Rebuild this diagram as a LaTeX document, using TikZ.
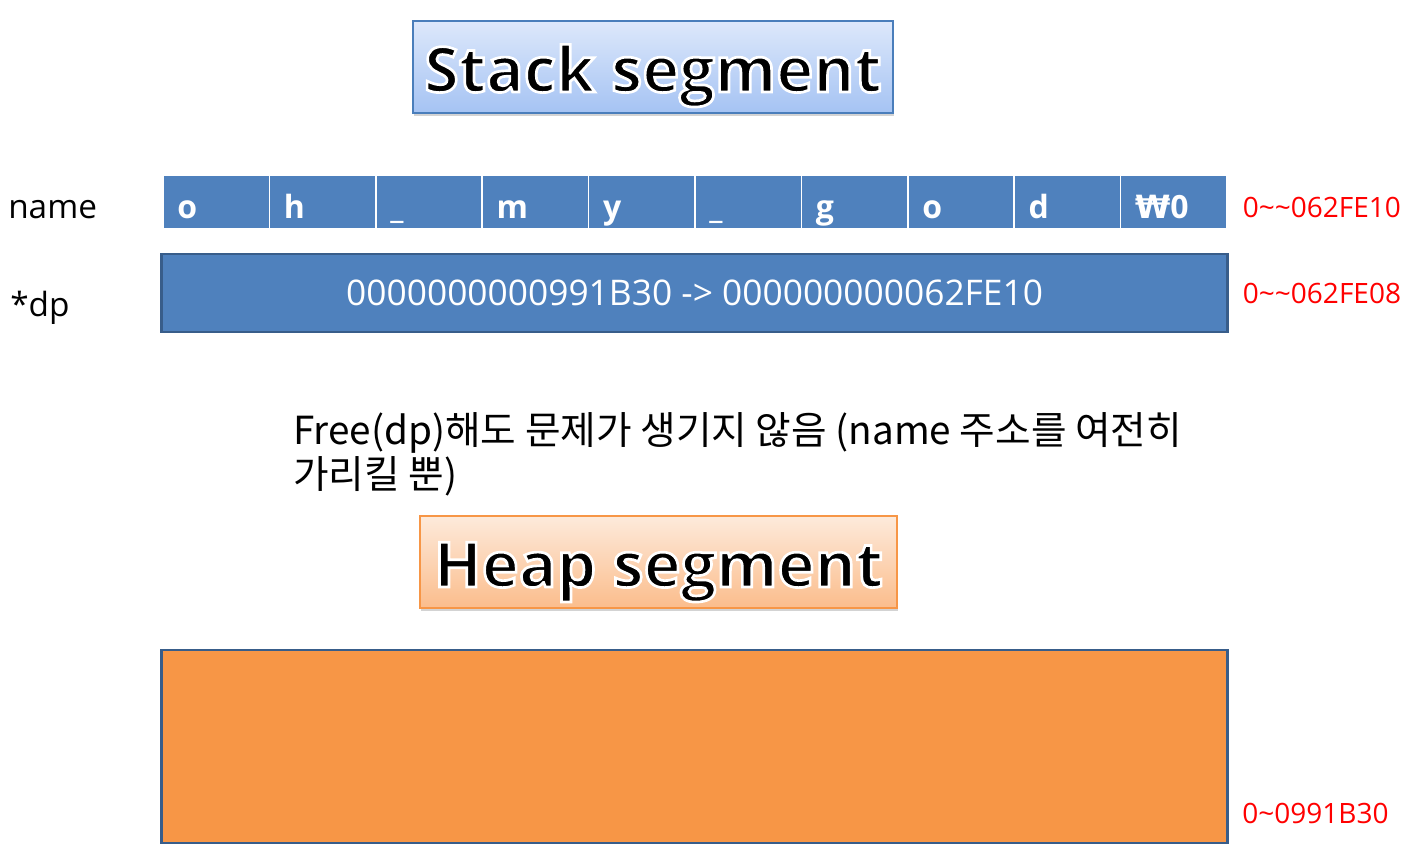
\documentclass[tikz,border=0pt]{standalone}
\usepackage{fontspec}
\setmainfont{Open Sans}
\newfontfamily\krfont{Noto Sans CJK KR}
\newfontfamily\wonfont{DejaVu Sans}
\usetikzlibrary{positioning,shadows}

\definecolor{cellblue}{HTML}{4F81BD}
\definecolor{edgeblue}{HTML}{385D8A}
\definecolor{heaporange}{HTML}{F79646}
\definecolor{stacktop}{HTML}{DDE8FB}
\definecolor{stackbot}{HTML}{A5C3F3}
\definecolor{stackedge}{HTML}{4A7EBB}
\definecolor{heaptop}{HTML}{FDEADB}
\definecolor{heapbot}{HTML}{FBBD8C}
\definecolor{addrred}{HTML}{FF0000}

% black letters with a white rim
\newcommand{\rimtext}[1]{\special{pdf:code 2 Tr 2 w 1 1 1 RG}#1\special{pdf:code 0 Tr}}

\begin{document}
\begin{tikzpicture}[x=0.75pt,y=-0.75pt,
    title/.style={rectangle,line width=1.1pt,minimum height=69pt,inner sep=0pt,
                  text height=40pt,text depth=2.5pt,
                  font=\fontsize{47}{54}\selectfont\bfseries,
                  drop shadow={opacity=0.35,shadow xshift=0.6pt,shadow yshift=-2pt}},
    cell/.style={rectangle,draw=white,line width=1.2pt,fill=cellblue,
                 minimum width=79.8pt,minimum height=40.5pt,inner sep=0pt},
    celltext/.style={anchor=base west,inner sep=0pt,text=white,
                     font=\fontsize{24}{28}\selectfont\bfseries},
    mem box/.style={rectangle,draw=edgeblue,line width=2.2pt,minimum width=800pt,inner sep=0pt},
    lbl/.style={anchor=base west,inner sep=0pt,font=\fontsize{25}{29}\selectfont},
    addr/.style={inner sep=0pt,text=addrred,font=\fontsize{21}{25}\selectfont}]

  \useasboundingbox (0,0) rectangle (1413,860);

  % stack segment
  \node[title,top color=stacktop,bottom color=stackbot,draw=stackedge,minimum width=360pt]
    (stack) at (653,67) {\rimtext{Stack segment}};

  \node[lbl] (name) at (8,218) {name};
  \foreach \ch [count=\i] in {o,h,\_,m,y,\_,g,o,d,{\wonfont ₩}0} {
    \node[cell] (c\i) at ({163+106.4*(\i-0.5)},202) {};
    \node[celltext] (t\i) at ([xshift=11.25pt,yshift=-12pt]c\i.west) {\ch};
  }
  \node[addr,anchor=west,right=11pt of c10,yshift=-4pt] (a1) {0\textasciitilde\textasciitilde062FE10};

  \node[lbl] (dplbl) at (10,316) {*dp};
  \node[mem box,fill=cellblue,minimum height=58.5pt,text=white,font=\fontsize{26.5}{30}\selectfont]
    (dp) at (694.5,293) {0000000000991B30 -> 000000000062FE10};
  \node[addr,right=10pt of dp] (a2) {0\textasciitilde\textasciitilde062FE08};

  \node[anchor=north west,align=left,inner sep=0pt,font=\krfont\fontsize{29}{33}\selectfont]
    (note) at (293,412) {Free(dp)해도 문제가 생기지 않음 (name 주소를 여전히\\가리킬 뿐)};

  % heap segment
  \node[title,top color=heaptop,bottom color=heapbot,draw=heaporange,minimum width=357.75pt]
    (heap) at (658.5,562) {\rimtext{Heap segment}};

  \node[mem box,fill=heaporange,minimum height=144.75pt] (heapmem) at (694.5,746.5) {};
  \node[addr,anchor=base west] (a3) at (1242,823) {0\textasciitilde0991B30};
\end{tikzpicture}
\end{document}
